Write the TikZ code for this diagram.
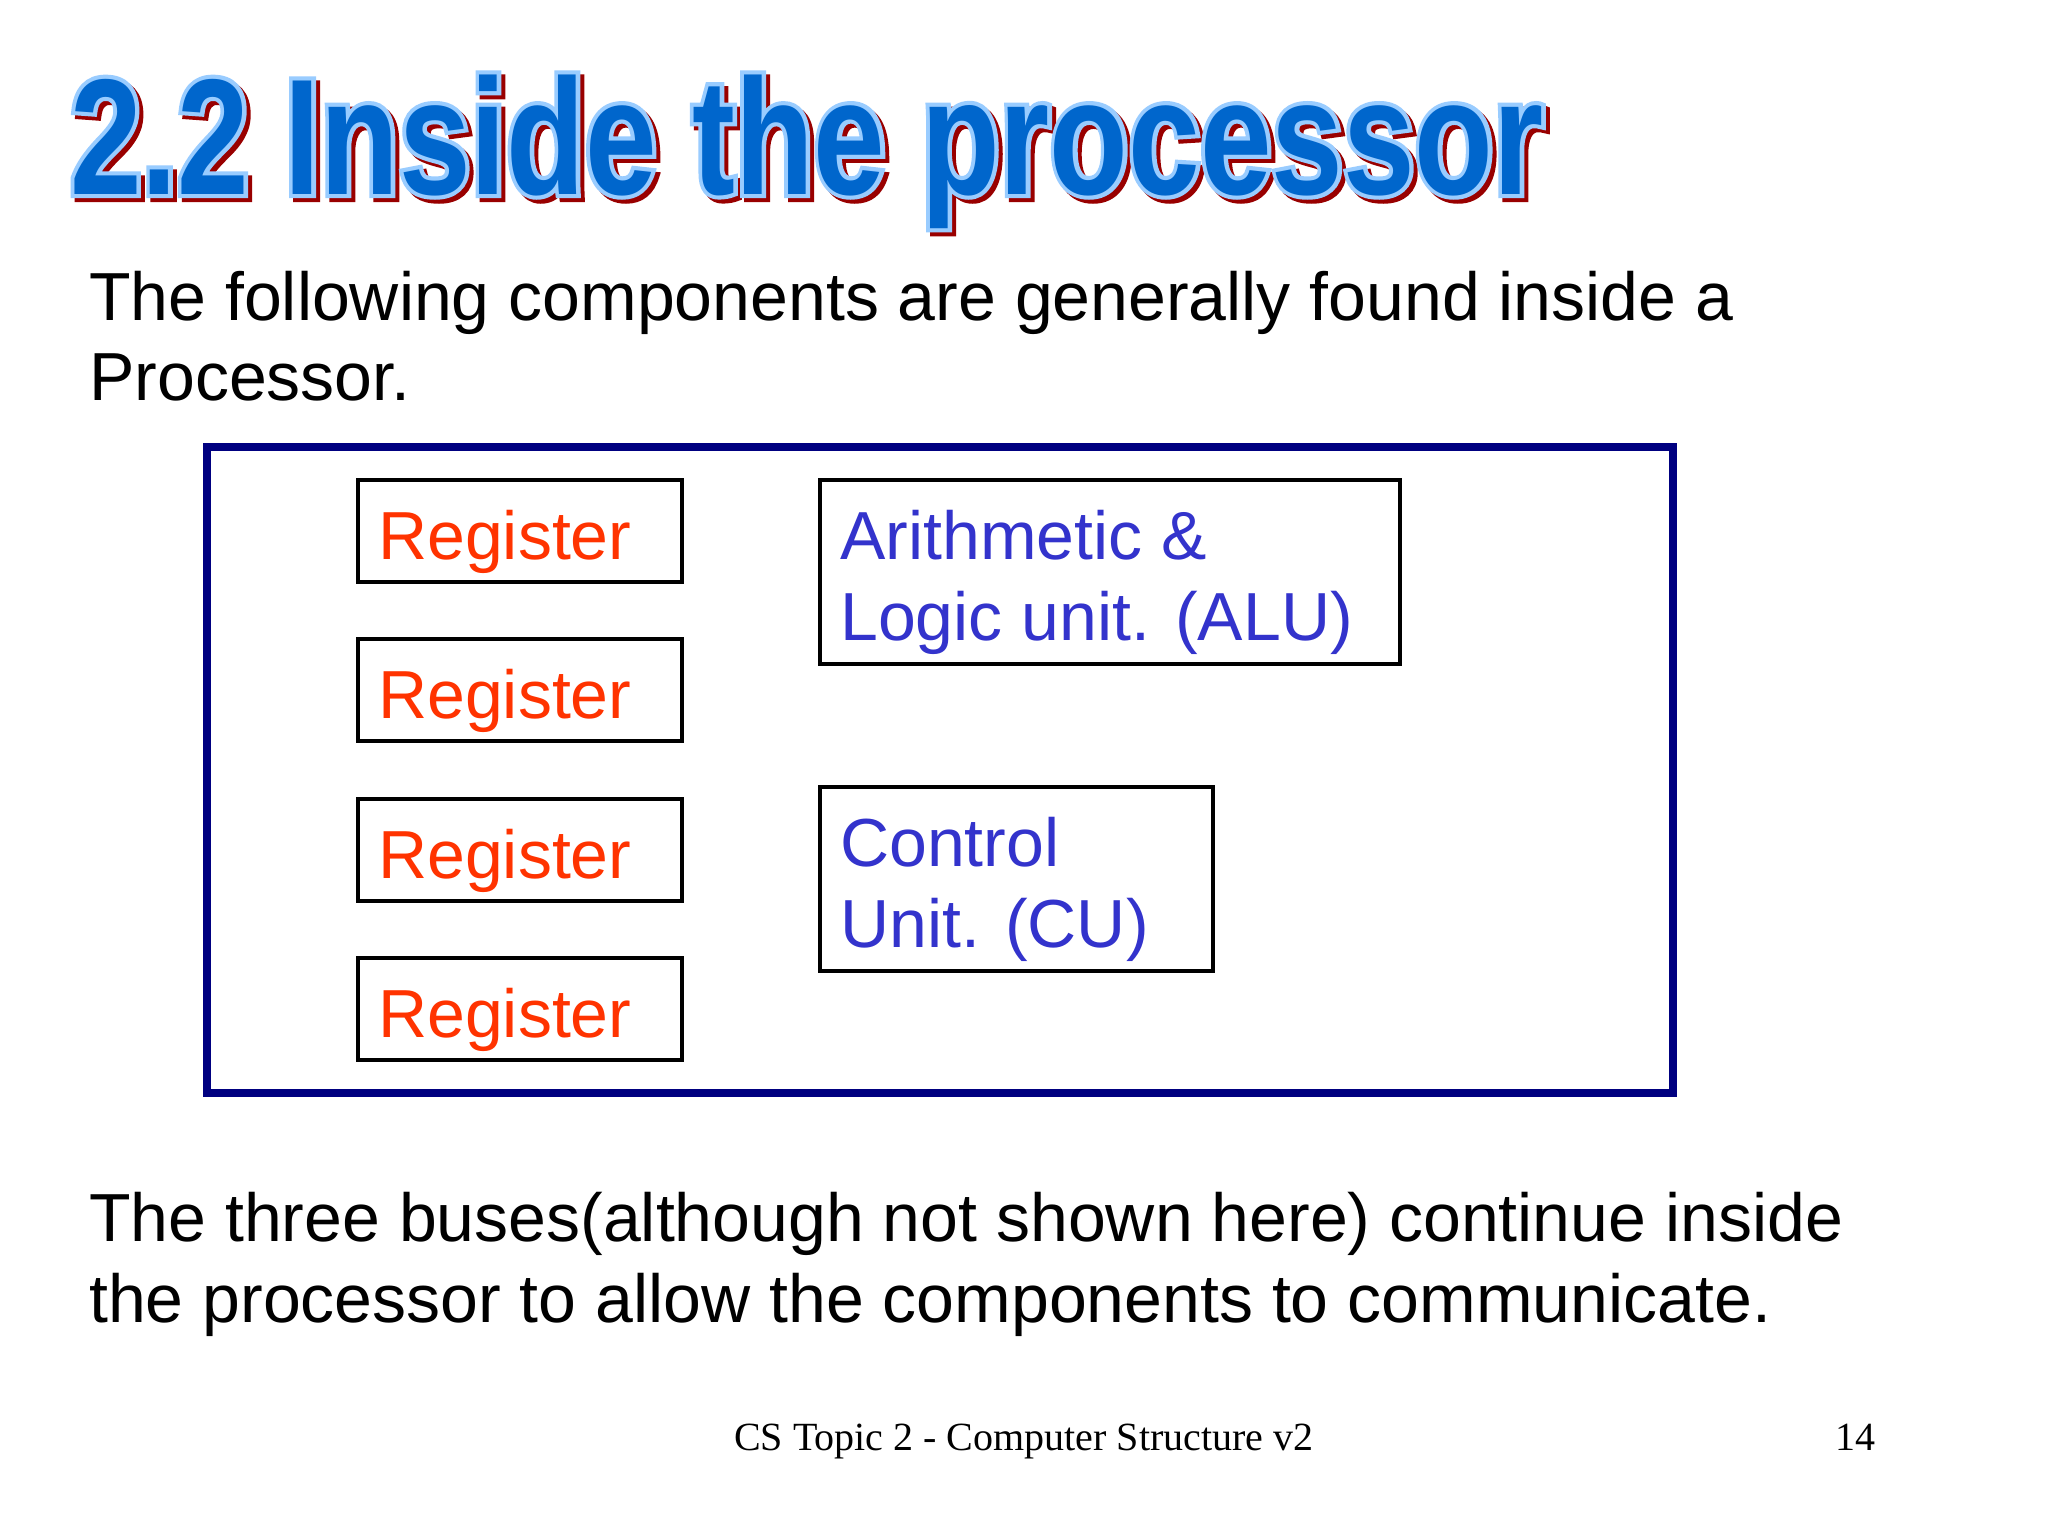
\documentclass[tikz,border=0pt]{standalone}
\usepackage{fontspec}
\setmainfont{Liberation Sans}
\newfontfamily\titlefont[FakeStretch=0.78,UprightFont={* Bold}]{Liberation Sans}
\newfontfamily\titleoutfont[FakeStretch=0.78,FakeBold=5,UprightFont={* Bold}]{Liberation Sans}
\newfontfamily\footfont{Liberation Serif}
\definecolor{titleblue}{RGB}{0,102,204}
\definecolor{titleout}{RGB}{153,204,255}
\definecolor{titleshadow}{RGB}{153,0,0}
\definecolor{regred}{RGB}{255,51,0}
\definecolor{unitblue}{RGB}{51,51,204}
\definecolor{framenavy}{RGB}{0,0,128}
\newcommand\slidetitle{2.2 Inside the processor}
\begin{document}
\begin{tikzpicture}[x=1pt,y=-1pt,
  ttl/.style={anchor=base west,inner sep=0pt,font=\titlefont\fontsize{165}{170}\selectfont},
  ttlout/.style={anchor=base west,inner sep=0pt,font=\titleoutfont\fontsize{165}{170}\selectfont},
  body/.style={anchor=base west,inner sep=0pt,font=\fontsize{68}{78}\selectfont},
  unitbox/.style={draw=black,line width=4pt,inner sep=0pt},
  regtext/.style={body,text=regred},
  unittext/.style={body,text=unitblue},
  foot/.style={anchor=base west,inner sep=0pt,font=\footfont\fontsize{40}{44}\selectfont}]
\useasboundingbox (0,0) rectangle (2048,1536);
\fill[white] (0,0) rectangle (2048,1536);
% title with shadow and outline
\node[ttlout,text=titleshadow] (titleshadow) at (74,198) {\slidetitle};
\node[ttlout,text=titleout] (titleoutline) at (70,194) {\slidetitle};
\node[ttl,text=titleblue] (title) at (70,194) {\slidetitle};
% intro text
\node[body] (intro1) at (89,320) {The following components are generally found inside a};
\node[body] (intro2) at (89,400) {Processor.};
% processor frame
\node[draw=framenavy,line width=8pt,minimum width=1466pt,minimum height=646pt,inner sep=0pt,anchor=north west] (cpu) at (203,443) {};
% registers
\foreach \y [count=\i] in {478,637,797,956}{
  \node[unitbox,minimum width=324pt,minimum height=102pt,anchor=north west] (reg\i) at (356,\y) {};
  \node[regtext] (regt\i) at ([shift={(22,81)}]reg\i.north west) {Register};
}
% ALU
\node[unitbox,minimum width=580pt,minimum height=184pt,anchor=north west] (alu) at (818,478) {};
\node[unittext] (alut1) at (840,559) {Arithmetic \&};
\node[unittext] (alut2) at (840,640) {Logic unit. (ALU)};
% CU
\node[unitbox,minimum width=393pt,minimum height=184pt,anchor=north west] (cu) at (818,785) {};
\node[unittext] (cut1) at (840,866) {Control};
\node[unittext] (cut2) at (840,947) {Unit. (CU)};
% closing text
\node[body] (buses1) at (89,1241) {The three buses(although not shown here) continue inside};
\node[body] (buses2) at (89,1322) {the processor to allow the components to communicate.};
% footer
\node[foot] (footer) at (734,1450) {CS Topic 2 - Computer Structure v2};
\node[foot] (pagenum) at (1835,1450) {14};
\end{tikzpicture}
\end{document}
